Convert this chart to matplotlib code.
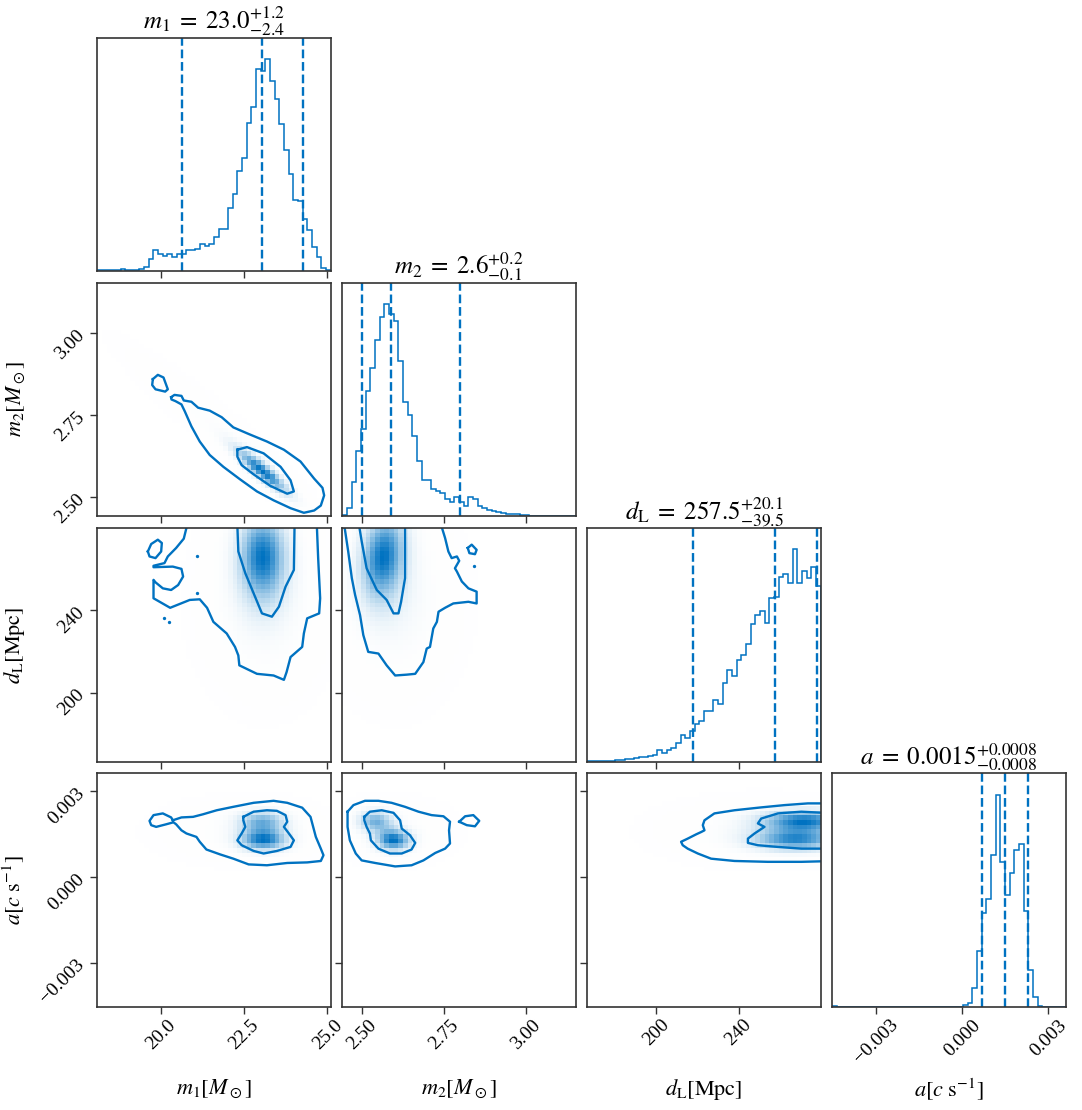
import numpy as np
import matplotlib
matplotlib.use("Agg")
import matplotlib.pyplot as plt
from matplotlib.colors import LinearSegmentedColormap

plt.rcParams['font.family'] = ['Liberation Serif', 'DejaVu Serif']
plt.rcParams['mathtext.fontset'] = 'stix'

COLOR = '#0072C1'
SPINE = '#333333'

# ---------------- data ----------------
labels = [r"$m_1[M_\odot]$", r"$m_2[M_\odot]$", r"$d_{\rm L}[{\rm Mpc}]$", r"$a[c\ {\rm s}^{-1}]$"]
titles = [r"$m_1\;=\;23.0^{+1.2}_{-2.4}$", r"$m_2\;=\;2.6^{+0.2}_{-0.1}$",
          r"$d_{\rm L}\;=\;257.5^{+20.1}_{-39.5}$", r"$a\;=\;0.0015^{+0.0008}_{-0.0008}$"]
ranges = [(18.08, 25.10), (2.441, 3.152), (166.8, 279.6), (-0.00453, 0.00362)]
ticks = [[20.0, 22.5, 25.0], [2.50, 2.75, 3.00], [200, 240], [-0.003, 0.0, 0.003]]
tick_labels = [["20.0", "22.5", "25.0"], ["2.50", "2.75", "3.00"], ["200", "240"],
               ["\u22120.003", "0.000", "0.003"]]
quantiles = [[20.62, 23.03, 24.25], [2.50, 2.59, 2.80], [218.0, 257.5, 277.6], [0.0007, 0.0015, 0.0023]]

hist_m1 = [0.004, 0.006, 0.005, 0.006, 0.004, 0.010, 0.005, 0.005, 0.008, 0.012,
           0.022, 0.058, 0.098, 0.080, 0.070, 0.083, 0.066, 0.080, 0.082, 0.098,
           0.102, 0.106, 0.126, 0.120, 0.128, 0.160, 0.200, 0.198, 0.297, 0.365,
           0.470, 0.535, 0.700, 0.775, 0.954, 0.943, 1.000, 0.894, 0.810, 0.694,
           0.571, 0.460, 0.334, 0.330, 0.244, 0.194, 0.115, 0.066, 0.016, 0.004]
hist_m2 = [0.005, 0.040, 0.160, 0.310, 0.410, 0.590, 0.700, 0.830, 0.940, 1.000,
           0.955, 0.920, 0.730, 0.540, 0.480, 0.380, 0.260, 0.170, 0.170, 0.130,
           0.120, 0.110, 0.080, 0.070, 0.090, 0.070, 0.050, 0.090, 0.080, 0.050,
           0.040, 0.030, 0.025, 0.020, 0.015, 0.012, 0.010, 0.010, 0.006, 0.005,
           0.004, 0.004, 0.003, 0.003, 0.002, 0.002, 0.002, 0.001, 0.001, 0.001]
hist_dL = [0.002, 0.002, 0.003, 0.003, 0.004, 0.005, 0.007, 0.009, 0.014, 0.014,
           0.016, 0.020, 0.022, 0.027, 0.030, 0.054, 0.040, 0.054, 0.066, 0.087,
           0.125, 0.110, 0.145, 0.177, 0.190, 0.240, 0.240, 0.290, 0.270, 0.370,
           0.430, 0.405, 0.480, 0.500, 0.555, 0.647, 0.690, 0.710, 0.653, 0.770,
           0.775, 0.870, 0.885, 0.840, 1.000, 0.840, 0.900, 0.866, 0.915, 0.826]
hist_a = [0.005, 0, 0, 0, 0, 0, 0, 0, 0, 0,
          0, 0, 0, 0, 0, 0, 0, 0, 0, 0,
          0, 0, 0, 0, 0, 0, 0, 0, 0.008, 0.016,
          0.090, 0.264, 0.440, 0.506, 0.715, 1.000, 0.684, 0.527, 0.629, 0.739,
          0.767, 0.453, 0.173, 0.044, 0.005, 0, 0, 0, 0, 0]
hists = [hist_m1, hist_m2, hist_dL, hist_a]

# 2D density components: (x centre, y centre, x width, y width, correlation, weight)
blobs_m1_m2 = [(23.05, 2.578, 0.60, 0.052, -0.90, 1.00), (21.6, 2.72, 1.40, 0.12, -0.95, 0.08)]
blobs_m1_dL = [(23.05, 267.0, 0.55, 16.0, 0.0, 1.00), (23.1, 245.0, 0.90, 22.0, 0.0, 0.25)]
blobs_m2_dL = [(2.565, 267.0, 0.052, 16.0, 0.2, 1.00), (2.60, 245.0, 0.090, 22.0, 0.0, 0.25)]
blobs_m1_a = [(23.08, 0.00128, 0.55, 0.00028, 0.0, 1.00), (23.05, 0.00196, 0.55, 0.00028, 0.0, 0.72),
              (22.5, 0.00160, 1.30, 0.00055, 0.0, 0.10)]
blobs_m2_a = [(2.597, 0.00128, 0.040, 0.00028, 0.0, 1.00), (2.541, 0.00196, 0.040, 0.00028, 0.0, 0.72),
              (2.60, 0.00160, 0.090, 0.00055, 0.0, 0.10)]
blobs_dL_a = [(268.0, 0.00128, 16.0, 0.00028, 0.0, 0.92), (272.0, 0.00198, 16.0, 0.00028, 0.0, 1.00),
              (250.0, 0.00160, 24.0, 0.00055, 0.0, 0.14)]

# contour outlines (x, y)
m1_m2_outer = [(20.30, 2.804), (20.40, 2.811), (20.61, 2.808), (20.68, 2.794), (20.91, 2.790),
               (21.11, 2.772), (21.46, 2.763), (21.82, 2.743), (22.17, 2.712), (22.63, 2.692),
               (23.18, 2.669), (23.69, 2.644), (24.19, 2.608), (24.60, 2.556), (24.85, 2.528),
               (24.90, 2.505), (24.80, 2.474), (24.60, 2.459), (24.29, 2.452), (23.89, 2.466),
               (23.38, 2.490), (22.88, 2.517), (22.37, 2.554), (21.87, 2.592), (21.46, 2.628),
               (21.16, 2.669), (20.91, 2.715), (20.71, 2.761), (20.61, 2.782), (20.43, 2.792),
               (20.31, 2.797), (20.30, 2.804)]
m1_m2_island = [(19.75, 2.859), (19.90, 2.872), (20.07, 2.864), (20.20, 2.828), (20.12, 2.821),
                (19.83, 2.828), (19.73, 2.841), (19.75, 2.859)]
m1_m2_inner = [(22.29, 2.644), (22.58, 2.652), (23.08, 2.633), (23.59, 2.592), (23.89, 2.551),
               (23.99, 2.517), (23.79, 2.510), (23.28, 2.534), (22.78, 2.569), (22.42, 2.597),
               (22.29, 2.623), (22.29, 2.644)]

m1_dL_outer = [(20.78, 281.0), (20.68, 274.5), (20.45, 270.0), (20.20, 265.9), (20.10, 262.7),
               (19.77, 261.4), (19.77, 260.7), (20.35, 261.0), (20.61, 259.9), (20.66, 256.2),
               (20.51, 252.1), (20.30, 249.7), (20.05, 250.5), (19.83, 253.4), (19.77, 254.6),
               (19.77, 245.7), (20.27, 241.1), (20.86, 244.9), (21.16, 245.2), (21.38, 241.1),
               (21.57, 234.3), (21.97, 228.7), (22.22, 222.2), (22.32, 218.1), (22.35, 213.3),
               (22.88, 209.2), (23.38, 208.4), (23.69, 206.3), (23.77, 210.0), (23.89, 217.3),
               (24.24, 222.2), (24.29, 228.7), (24.39, 236.0), (24.75, 238.4), (24.78, 245.7),
               (24.72, 265.1), (24.68, 281.0)]
m1_dL_island = [(19.60, 268.3), (19.70, 271.9), (19.90, 274.0), (20.02, 272.4), (20.00, 268.3),
                (19.83, 265.1), (19.65, 265.9), (19.60, 268.3)]
m1_dL_inner = [(22.29, 281.0), (22.32, 268.3), (22.53, 257.8), (22.78, 248.1), (23.03, 238.4),
               (23.33, 236.8), (23.54, 241.6), (23.74, 251.3), (23.99, 259.4), (24.01, 281.0)]
m1_dL_specks = [(20.10, 236.3), (20.23, 234.3), (21.08, 265.9), (21.08, 248.1)]

m2_dL_outer = [(2.447, 281.0), (2.459, 268.3), (2.470, 255.4), (2.480, 247.3), (2.495, 237.6),
               (2.505, 227.9), (2.520, 219.8), (2.551, 219.0), (2.576, 213.3), (2.602, 208.4),
               (2.637, 208.8), (2.663, 209.2), (2.688, 214.9), (2.698, 221.4), (2.708, 222.2),
               (2.718, 231.1), (2.729, 234.3), (2.734, 239.2), (2.754, 241.1), (2.779, 243.2),
               (2.825, 244.0), (2.850, 243.2), (2.850, 248.9), (2.825, 250.5), (2.805, 253.8),
               (2.790, 258.6), (2.784, 260.2), (2.797, 263.8), (2.790, 265.9), (2.774, 265.1),
               (2.764, 268.3), (2.754, 274.8), (2.742, 281.0)]
m2_dL_island = [(2.823, 270.0), (2.835, 271.6), (2.850, 269.1), (2.845, 267.0), (2.828, 267.5),
                (2.823, 270.0)]
m2_dL_inner = [(2.492, 281.0), (2.500, 273.2), (2.515, 260.2), (2.546, 249.7), (2.576, 244.9),
               (2.597, 238.4), (2.612, 238.4), (2.620, 244.0), (2.632, 255.4), (2.632, 281.0)]
m2_dL_specks = [(2.843, 261.5)]

m1_a_outer = [(20.35, 0.00198), (20.61, 0.00208), (20.96, 0.00210), (21.26, 0.00219), (21.67, 0.00233),
              (22.17, 0.00245), (22.78, 0.00259), (23.38, 0.00266), (23.79, 0.00259), (24.24, 0.00242),
              (24.49, 0.00210), (24.65, 0.00140), (24.80, 0.00099), (24.88, 0.00076), (24.80, 0.00056),
              (24.39, 0.00051), (23.79, 0.00049), (23.18, 0.00041), (22.63, 0.00044), (22.17, 0.00064),
              (21.77, 0.00079), (21.36, 0.00096), (21.16, 0.00123), (21.06, 0.00140), (20.76, 0.00152),
              (20.61, 0.00163), (20.45, 0.00184), (20.37, 0.00191), (20.15, 0.00184), (19.85, 0.00175),
              (19.70, 0.00181), (19.65, 0.00196), (19.77, 0.00216), (20.05, 0.00222), (20.30, 0.00208),
              (20.35, 0.00198)]
m1_a_inner = [(22.47, 0.00210), (22.78, 0.00228), (23.18, 0.00233), (23.48, 0.00231), (23.74, 0.00216),
              (23.79, 0.00193), (23.69, 0.00175), (23.84, 0.00152), (23.99, 0.00128), (23.89, 0.00105),
              (23.48, 0.00091), (23.08, 0.00082), (22.78, 0.00091), (22.42, 0.00111), (22.29, 0.00128),
              (22.42, 0.00152), (22.53, 0.00175), (22.47, 0.00198), (22.47, 0.00210)]

m2_a_outer = [(2.457, 0.00228), (2.475, 0.00251), (2.510, 0.00266), (2.551, 0.00266), (2.591, 0.00259),
              (2.632, 0.00245), (2.673, 0.00228), (2.713, 0.00216), (2.749, 0.00212), (2.769, 0.00193),
              (2.766, 0.00163), (2.769, 0.00117), (2.754, 0.00099), (2.724, 0.00084), (2.688, 0.00058),
              (2.652, 0.00041), (2.602, 0.00037), (2.541, 0.00049), (2.500, 0.00058), (2.482, 0.00082),
              (2.464, 0.00128), (2.457, 0.00175), (2.457, 0.00210), (2.457, 0.00228)]
m2_a_island = [(2.797, 0.00193), (2.815, 0.00212), (2.840, 0.00216), (2.858, 0.00196), (2.845, 0.00177),
               (2.820, 0.00181), (2.797, 0.00193)]
m2_a_inner = [(2.508, 0.00210), (2.525, 0.00228), (2.561, 0.00233), (2.597, 0.00224), (2.617, 0.00198),
              (2.622, 0.00169), (2.647, 0.00146), (2.663, 0.00119), (2.652, 0.00096), (2.622, 0.00082),
              (2.586, 0.00082), (2.551, 0.00099), (2.528, 0.00128), (2.525, 0.00152), (2.515, 0.00175),
              (2.508, 0.00198), (2.508, 0.00210)]

dL_a_outer = [(281.0, 0.00257), (273.4, 0.00257), (262.1, 0.00251), (250.8, 0.00243), (237.9, 0.00233),
              (228.2, 0.00222), (223.4, 0.00198), (222.6, 0.00181), (223.4, 0.00163), (221.8, 0.00157),
              (219.4, 0.00149), (215.3, 0.00134), (212.1, 0.00123), (212.9, 0.00111), (215.3, 0.00099),
              (220.2, 0.00082), (226.6, 0.00064), (237.9, 0.00056), (254.0, 0.00053), (270.2, 0.00053),
              (281.0, 0.00055)]
dL_a_inner = [(281.0, 0.00224), (270.2, 0.00228), (258.9, 0.00222), (250.8, 0.00204), (249.2, 0.00187),
              (252.4, 0.00175), (247.6, 0.00152), (244.4, 0.00134), (244.4, 0.00119), (249.2, 0.00111),
              (258.9, 0.00105), (270.2, 0.00099), (281.0, 0.00099)]

panels2d = {
    (1, 0): (blobs_m1_m2, [m1_m2_outer, m1_m2_island, m1_m2_inner], []),
    (2, 0): (blobs_m1_dL, [m1_dL_outer, m1_dL_island, m1_dL_inner], m1_dL_specks),
    (2, 1): (blobs_m2_dL, [m2_dL_outer, m2_dL_island, m2_dL_inner], m2_dL_specks),
    (3, 0): (blobs_m1_a, [m1_a_outer, m1_a_inner], []),
    (3, 1): (blobs_m2_a, [m2_a_outer, m2_a_island, m2_a_inner], []),
    (3, 2): (blobs_dL_a, [dL_a_outer, dL_a_inner], []),
}

# ---------------- drawing ----------------
density_cmap = LinearSegmentedColormap.from_list("density_cmap", [COLOR, (1, 1, 1, 0)])


def density(blobs, xr, yr, n=50):
    xe = np.linspace(xr[0], xr[1], n + 1)
    ye = np.linspace(yr[0], yr[1], n + 1)
    xc = 0.5 * (xe[1:] + xe[:-1])
    yc = 0.5 * (ye[1:] + ye[:-1])
    X, Y = np.meshgrid(xc, yc)
    Hd = np.zeros_like(X)
    for cx, cy, sx, sy, rho, w in blobs:
        dx = (X - cx) / sx
        dy = (Y - cy) / sy
        Hd += w * np.exp(-0.5 * (dx ** 2 - 2 * rho * dx * dy + dy ** 2) / (1 - rho ** 2))
    return xe, ye, Hd


W, Hfig = 1082.0, 1110.0
fig = plt.figure(figsize=(10.82, 11.10), dpi=100)
size = 233.5
x0s = [97.3 + 245.0 * k for k in range(4)]
y0s = [37.7 + 245.2 * k for k in range(4)]

for i in range(4):
    for j in range(i + 1):
        ax = fig.add_axes([x0s[j] / W, 1 - (y0s[i] + size) / Hfig, size / W, size / Hfig])
        for sp in ax.spines.values():
            sp.set_color(SPINE)
            sp.set_linewidth(1.2)
        ax.tick_params(direction='out', length=5, width=1.0, color=SPINE,
                       labelsize=14, pad=2, labelcolor='black')
        ax.set_xlim(*ranges[j])
        ax.set_xticks(ticks[j])
        if i == 3:
            ax.set_xticklabels(tick_labels[j], rotation=45)
            ax.set_xlabel(labels[j], fontsize=16)
            ax.xaxis.set_label_coords(0.5, -0.3)
        else:
            ax.set_xticklabels([])
        if i == j:
            vals = np.array(hists[i])
            edges = np.linspace(ranges[i][0], ranges[i][1], len(vals) + 1)
            ax.stairs(vals, edges, color=COLOR, lw=1.1, baseline=0)
            for q in quantiles[i]:
                ax.axvline(q, color=COLOR, ls='--', lw=1.7)
            ax.set_ylim(0, 1.1 * vals.max())
            ax.set_yticks([])
            ax.set_title(titles[i], fontsize=18, pad=4)
        else:
            blobs, lines, specks = panels2d[(i, j)]
            xe, ye, Hd = density(blobs, ranges[j], ranges[i])
            ax.pcolormesh(xe, ye, Hd.max() - Hd, cmap=density_cmap, shading='flat',
                          rasterized=True)
            for ln in lines:
                xs = [p[0] for p in ln]
                ys = [p[1] for p in ln]
                ax.plot(xs, ys, color=COLOR, lw=1.7, solid_joinstyle='round')
            for p in specks:
                ax.plot([p[0]], [p[1]], 'o', color=COLOR, ms=2.4, mew=0)
            ax.set_ylim(*ranges[i])
            ax.set_yticks(ticks[i])
            if j == 0:
                ax.set_yticklabels(tick_labels[i], rotation=45)
                ax.set_ylabel(labels[i], fontsize=16)
                ax.yaxis.set_label_coords(-0.3, 0.5)
            else:
                ax.set_yticklabels([])

fig.savefig("out.png", dpi=100)
